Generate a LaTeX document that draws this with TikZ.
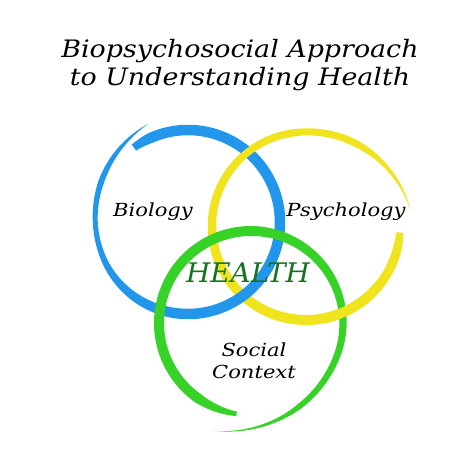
\documentclass[tikz,border=0pt]{standalone}
\usepackage{graphicx}
\usepackage{fontspec}
\newfontfamily\hand{DejaVu Serif}
\newcommand{\wideT}[1]{\scalebox{1.12}[1]{#1}}
\newcommand{\wideL}[1]{\scalebox{1.17}[1]{#1}}
\definecolor{cblue}{RGB}{33,150,235}
\definecolor{cyellow}{RGB}{240,228,30}
\definecolor{cgreen}{RGB}{55,210,40}
\definecolor{dgreen}{RGB}{20,115,30}
\tikzset{
  declare function={
    bR(\a)=92+0.0018*max(\a-520,0)*max(\a-520,0);
    bw(\a)=((\a>450)?(10.5-5.5*cos(\a-540)*cos(\a-540)):10.5)*((\a>565)?((608-\a)/43):1)*((\a<246)?(0.7+0.025*(\a-234)):1);
    yR(\a)=94+0.00142*max(\a-260,0)*max(\a-260,0);
    yw(\a)=(8.5+1.5*sin(\a))*((\a>300)?((352-\a)/52):1)*((\a<14)?(0.8+0.02*(\a-4)):1);
    gR(\a)=92+0.00278*max(\a-380,0)*max(\a-380,0);
    gw(\a)=((\a<270)?10:(10-(\a-270)*0.03))*((\a>420)?((469-\a)/49):1)*((\a<125)?(0.45+0.55*(\a-99)/26):1);
  },
  lbl/.style={font=\hand\itshape\fontsize{18}{22}\selectfont, text=black, inner sep=0pt},
  ttl/.style={font=\hand\itshape\fontsize{24}{28}\selectfont, text=black, inner sep=0pt, align=center},
}
\newcommand{\bluering}{%
  \fill[cblue] plot[domain=234:608, samples=300, variable=\t] ({188+(bR(\t)+bw(\t)/2)*cos(\t)},{222+(bR(\t)+bw(\t)/2)*sin(\t)})
    -- plot[domain=608:234, samples=300, variable=\t] ({188+(bR(\t)-bw(\t)/2)*cos(\t)},{222+(bR(\t)-bw(\t)/2)*sin(\t)}) -- cycle;}
\newcommand{\yellowring}{%
  \fill[cyellow] plot[domain=4:352, samples=300, variable=\t] ({306+(yR(\t)+yw(\t)/2)*cos(\t)},{226+(yR(\t)+yw(\t)/2)*sin(\t)})
    -- plot[domain=352:4, samples=300, variable=\t] ({306+(yR(\t)-yw(\t)/2)*cos(\t)},{226+(yR(\t)-yw(\t)/2)*sin(\t)}) -- cycle;}
\newcommand{\greenring}{%
  \fill[cgreen] plot[domain=99:469, samples=300, variable=\t] ({251+(gR(\t)+gw(\t)/2)*cos(\t)},{323+(gR(\t)+gw(\t)/2)*sin(\t)})
    -- plot[domain=469:99, samples=300, variable=\t] ({251+(gR(\t)-gw(\t)/2)*cos(\t)},{323+(gR(\t)-gw(\t)/2)*sin(\t)}) -- cycle;}
\begin{document}
\begin{tikzpicture}[x=1pt,y=-1pt]
\useasboundingbox[fill=white] (0,0) rectangle (474,474);
\yellowring
\bluering
\begin{scope}
  \clip (200,100) rectangle (300,200);
  \yellowring
\end{scope}
\greenring
\begin{scope}
  \clip (325,280) rectangle (385,335);
  \yellowring
\end{scope}
\node[ttl] (title) at (240,65) {\wideT{Biopsychosocial Approach}\\\wideT{to Understanding Health}};
\node[lbl] (bio) at (153,212) {\wideL{Biology}};
\node[lbl] (psy) at (346,212) {\wideL{Psychology}};
\node[lbl, align=center] (soc) at (254,361) {\wideL{Social}\\\wideL{Context}};
\node[font=\hand\itshape\fontsize{27}{30}\selectfont, text=dgreen, inner sep=0pt] (health) at (248,273) {\scalebox{1.03}[1]{HEALTH}};
\end{tikzpicture}
\end{document}
